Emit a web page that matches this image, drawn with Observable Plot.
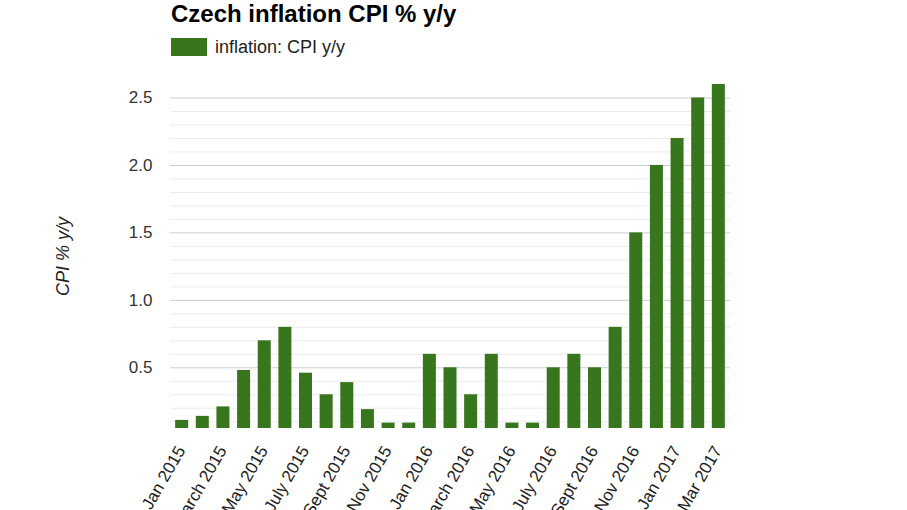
<!DOCTYPE html>
<html>
<head>
<meta charset="utf-8">
<script src="https://cdn.jsdelivr.net/npm/d3@7"></script>
<script src="https://cdn.jsdelivr.net/npm/@observablehq/plot@0.6"></script>
<style>
  html, body { margin: 0; padding: 0; background: #fff; }
  body { width: 907px; height: 510px; overflow: hidden; font-family: "Liberation Sans", Arial, sans-serif; }
  #head { position: relative; height: 70px; }
  #title { position: absolute; left: 171px; top: 0px; font-size: 24px; font-weight: bold; color: #000; white-space: nowrap; }
  #legend { position: absolute; left: 171px; top: 38px; display: flex; align-items: center; line-height: 18px; font-size: 18px; color: #222; white-space: nowrap; }
  #swatch { display: inline-block; width: 36px; height: 18px; margin-right: 8px; }
</style>
</head>
<body>
<div id="head">
  <div id="title"></div>
  <div id="legend"><span id="swatch"></span><span id="legendText"></span></div>
</div>
<div id="chart"></div>
<script>
// ---- data ----
const titleText = "Czech inflation CPI % y/y";
const seriesName = "inflation: CPI y/y";
const yLabel = "CPI % y/y";
const months = [
  "Jan 2015", "Feb 2015", "March 2015", "Apr 2015", "May 2015", "June 2015",
  "July 2015", "Aug 2015", "Sept 2015", "Oct 2015", "Nov 2015", "Dec 2015",
  "Jan 2016", "Feb 2016", "March 2016", "Apr 2016", "May 2016", "June 2016",
  "July 2016", "Aug 2016", "Sept 2016", "Oct 2016", "Nov 2016", "Dec 2016",
  "Jan 2017", "Feb 2017", "Mar 2017"
];
const inflation = [
  0.11, 0.14, 0.21, 0.48, 0.70, 0.80,
  0.46, 0.30, 0.39, 0.19, 0.09, 0.09,
  0.60, 0.50, 0.30, 0.60, 0.09, 0.09,
  0.50, 0.60, 0.50, 0.80, 1.50, 2.00,
  2.20, 2.50, 2.60
];
const xTickLabels = [
  "Jan 2015", "March 2015", "May 2015", "July 2015", "Sept 2015", "Nov 2015",
  "Jan 2016", "March 2016", "May 2016", "July 2016", "Sept 2016", "Nov 2016",
  "Jan 2017", "Mar 2017"
];
const yMajorTicks = [0.5, 1.0, 1.5, 2.0, 2.5];
const yMinorTicks = [0.1, 0.2, 0.3, 0.4, 0.6, 0.7, 0.8, 0.9, 1.1, 1.2, 1.3, 1.4,
                     1.6, 1.7, 1.8, 1.9, 2.1, 2.2, 2.3, 2.4];
const yDomain = [0.05, 2.6];

// ---- styles ----
const barColor = "#38761d";

document.getElementById("title").textContent = titleText;
document.getElementById("legendText").textContent = seriesName;
document.getElementById("swatch").style.background = barColor;

const data = months.map((m, i) => ({month: m, value: inflation[i]}));

const chart = Plot.plot({
  width: 907,
  height: 440,
  marginTop: 14,
  marginBottom: 82,
  marginLeft: 170,
  marginRight: 177,
  style: {fontFamily: "'Liberation Sans', Arial, sans-serif", fontSize: "17px", color: "#333", background: "#fff"},
  x: {domain: months, paddingInner: 0.37, paddingOuter: 0.25, round: false, label: null},
  y: {domain: yDomain, label: null},
  marks: [
    Plot.ruleY(yMinorTicks, {stroke: "#ebebeb", strokeWidth: 1}),
    Plot.ruleY(yMajorTicks, {stroke: "#cccccc", strokeWidth: 1}),
    Plot.barY(data, {x: "month", y: "value", fill: barColor, clip: true}),
    Plot.axisY({ticks: yMajorTicks, tickSize: 0, tickPadding: 18, tickFormat: d3.format(".1f"), fill: "#333", label: null}),
    Plot.axisX({ticks: xTickLabels, tickSize: 0, tickPadding: 19, dx: -1, tickRotate: -60, fill: "#222", label: null}),
    Plot.text([yLabel], {frameAnchor: "left", textAnchor: "middle", rotate: -90, dx: -107, fontStyle: "italic", fontSize: 18, fill: "#222"})
  ]
});
document.getElementById("chart").appendChild(chart);
</script>
</body>
</html>
